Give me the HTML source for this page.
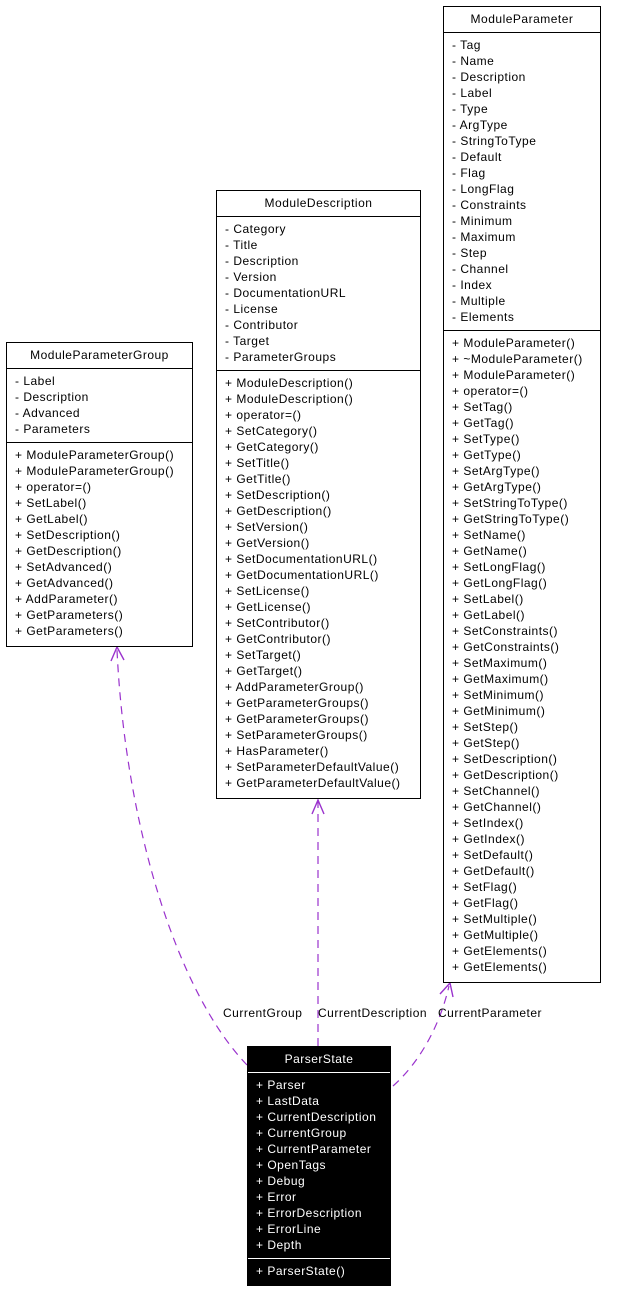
<!DOCTYPE html>
<html><head><meta charset="utf-8"><style>
body{margin:0;width:635px;height:1291px;background:#fff;position:relative;font-family:"Liberation Sans",Arial,sans-serif;font-size:12px;color:#000;overflow:hidden;letter-spacing:0.5px}
.box{position:absolute;border:1px solid #000;background:#fff;box-sizing:border-box}
.box .t{height:25px;line-height:25px;text-align:center;border-bottom:1px solid #000}
.box .s{padding:4px 0 5px 8px;line-height:16px;white-space:nowrap}
.box .s+.s{border-top:1px solid #000}
.dark{background:#000;color:#fff;border-color:#000}
.dark .t,.dark .s+.s{border-color:#fff}
svg{position:absolute;left:0;top:0}
.lbl{position:absolute;font-size:12px;white-space:nowrap}
</style></head><body>
<svg width="635" height="1291">
<g fill="none" stroke="#9a32cd" stroke-width="1.2" stroke-dasharray="8,6">
<path d="M247,1065 C175,990 125,820 117,650"/>
<path d="M318,1046 L318,802"/>
<path d="M393,1086 C420,1062 440,1025 449,986"/>
</g>
<g fill="none" stroke="#9a32cd" stroke-width="1.4">
<path d="M111,661 L117,647 L124,660"/>
<path d="M312,814 L318,800 L324,814"/>
<path d="M440,994 L450,983 L453,997"/>
</g>
</svg>
<div class="lbl" style="left:223px;top:1006px">CurrentGroup</div>
<div class="lbl" style="left:318px;top:1006px">CurrentDescription</div>
<div class="lbl" style="left:438px;top:1006px">CurrentParameter</div>

<div class="box" style="left:6px;top:342px;width:187px;height:305px">
<div class="t">ModuleParameterGroup</div>
<div class="s">- Label<br>- Description<br>- Advanced<br>- Parameters</div>
<div class="s">+ ModuleParameterGroup()<br>+ ModuleParameterGroup()<br>+ operator=()<br>+ SetLabel()<br>+ GetLabel()<br>+ SetDescription()<br>+ GetDescription()<br>+ SetAdvanced()<br>+ GetAdvanced()<br>+ AddParameter()<br>+ GetParameters()<br>+ GetParameters()</div>
</div>

<div class="box" style="left:216px;top:190px;width:205px;height:609px">
<div class="t">ModuleDescription</div>
<div class="s">- Category<br>- Title<br>- Description<br>- Version<br>- DocumentationURL<br>- License<br>- Contributor<br>- Target<br>- ParameterGroups</div>
<div class="s">+ ModuleDescription()<br>+ ModuleDescription()<br>+ operator=()<br>+ SetCategory()<br>+ GetCategory()<br>+ SetTitle()<br>+ GetTitle()<br>+ SetDescription()<br>+ GetDescription()<br>+ SetVersion()<br>+ GetVersion()<br>+ SetDocumentationURL()<br>+ GetDocumentationURL()<br>+ SetLicense()<br>+ GetLicense()<br>+ SetContributor()<br>+ GetContributor()<br>+ SetTarget()<br>+ GetTarget()<br>+ AddParameterGroup()<br>+ GetParameterGroups()<br>+ GetParameterGroups()<br>+ SetParameterGroups()<br>+ HasParameter()<br>+ SetParameterDefaultValue()<br>+ GetParameterDefaultValue()</div>
</div>

<div class="box" style="left:443px;top:6px;width:158px;height:977px">
<div class="t">ModuleParameter</div>
<div class="s">- Tag<br>- Name<br>- Description<br>- Label<br>- Type<br>- ArgType<br>- StringToType<br>- Default<br>- Flag<br>- LongFlag<br>- Constraints<br>- Minimum<br>- Maximum<br>- Step<br>- Channel<br>- Index<br>- Multiple<br>- Elements</div>
<div class="s">+ ModuleParameter()<br>+ ~ModuleParameter()<br>+ ModuleParameter()<br>+ operator=()<br>+ SetTag()<br>+ GetTag()<br>+ SetType()<br>+ GetType()<br>+ SetArgType()<br>+ GetArgType()<br>+ SetStringToType()<br>+ GetStringToType()<br>+ SetName()<br>+ GetName()<br>+ SetLongFlag()<br>+ GetLongFlag()<br>+ SetLabel()<br>+ GetLabel()<br>+ SetConstraints()<br>+ GetConstraints()<br>+ SetMaximum()<br>+ GetMaximum()<br>+ SetMinimum()<br>+ GetMinimum()<br>+ SetStep()<br>+ GetStep()<br>+ SetDescription()<br>+ GetDescription()<br>+ SetChannel()<br>+ GetChannel()<br>+ SetIndex()<br>+ GetIndex()<br>+ SetDefault()<br>+ GetDefault()<br>+ SetFlag()<br>+ GetFlag()<br>+ SetMultiple()<br>+ GetMultiple()<br>+ GetElements()<br>+ GetElements()</div>
</div>

<div class="box dark" style="left:247px;top:1046px;width:144px;height:240px">
<div class="t">ParserState</div>
<div class="s">+ Parser<br>+ LastData<br>+ CurrentDescription<br>+ CurrentGroup<br>+ CurrentParameter<br>+ OpenTags<br>+ Debug<br>+ Error<br>+ ErrorDescription<br>+ ErrorLine<br>+ Depth</div>
<div class="s">+ ParserState()</div>
</div>
</body></html>
